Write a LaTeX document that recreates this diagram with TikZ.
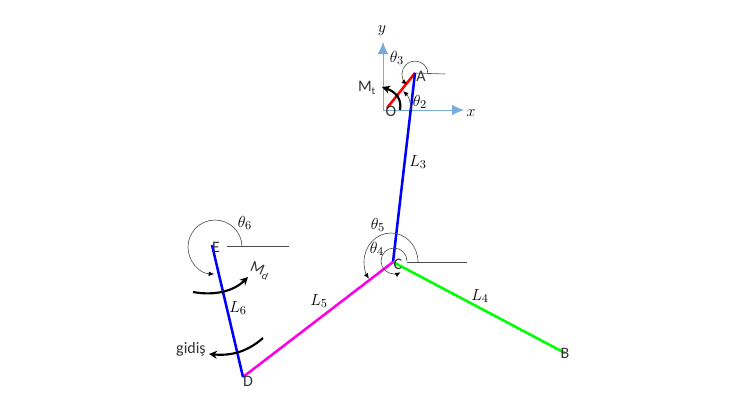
\documentclass[tikz,border=0pt]{standalone}
\usepackage{fontspec}
\setmainfont{Carlito}
\usetikzlibrary{arrows.meta}
\definecolor{axisblue}{RGB}{120,170,220}
\definecolor{linkpink}{RGB}{255,0,230}
\tikzset{
    link/.style={line width=1.9pt},
    thin line/.style={draw=black!70, line width=0.45pt},
    angle arc/.style={thin line, -{Latex[length=4pt,width=3.5pt,black]}},
    moment/.style={line width=1.6pt, -{Stealth[length=6pt,width=6pt]}},
    axis/.style={draw=axisblue, line width=0.7pt, -{Latex[length=9pt,width=8pt]}},
    point/.style={font=\fontsize{12}{14}\selectfont, text=black!80, inner sep=0pt},
    symbol/.style={font=\fontsize{13}{15}\selectfont, inner sep=0pt},
}
\begin{document}
\begin{tikzpicture}[x=0.75pt,y=-0.75pt]
    \useasboundingbox (0,0) rectangle (736,405);
    \coordinate (origin) at (383,110);
    \coordinate (xend) at (464,110);
    \coordinate (yend) at (383,42);
    \coordinate (start) at (387,108);
    \coordinate (A) at (415,73);
    \coordinate (C) at (393,262);
    \coordinate (B) at (565,353);
    \coordinate (D) at (243,377);
    \coordinate (E) at (212,245);
    \coordinate (Aright) at (445,74);
    \coordinate (Cleft) at (407,262);
    \coordinate (Cright) at (467,262);
    \coordinate (Eleft) at (227,246);
    \coordinate (Eright) at (289,246);

    \draw[axis] (origin) -- (xend);
    \draw[axis] (origin) -- (yend);
    \draw[thin line] (A) -- (Aright);
    \draw[thin line] (Cleft) -- (Cright);
    \draw[thin line] (Eleft) -- (Eright);

    \draw[link, red] (start) -- (A);
    \draw[link, blue] (A) -- (C);
    \draw[link, green] (C) -- (B);
    \draw[link, linkpink] (C) -- (D);
    \draw[link, blue] (D) -- (E);

    \draw[angle arc] (411,109) arc[start angle=0, end angle=-48, radius=24];
    \draw[angle arc] (428,74) arc[start angle=0, end angle=-233, radius=13];
    \draw[angle arc] (418,262) arc[start angle=0, end angle=-215, x radius=27, y radius=29];
    \draw[angle arc] (407,261) arc[start angle=0, end angle=-300, radius=13];
    \draw[angle arc] (242,247) arc[start angle=0, end angle=-268, radius=27];

    \draw[moment] (400,110) .. controls (402,99) and (396,92) .. (382,87);
    \draw[moment] (193,292) .. controls (215,296) and (234,291) .. (248,277);
    \draw[moment] (263,338) .. controls (247,352) and (231,356) .. (209,354);

    \node[point] (labelO) at (391,111) {O};
    \node[point] (labelA) at (421,76) {A};
    \node[point] (labelC) at (398,264) {C};
    \node[point] (labelB) at (565,353) {B};
    \node[point] (labelD) at (248,381) {D};
    \node[point] (labelE) at (216,247) {E};
    \node[point] (labelMt) at (367,88) {M\textsubscript{t}};
    \node[point, rotate=-22] (labelMd) at (260,271) {M\textsubscript{d}};
    \node[point] (labelgidis) at (191,349) {gidiş};

    \node[symbol] (labely) at (382,31) {$y$};
    \node[symbol] (labelx) at (471,113) {$x$};
    \node[symbol] (theta2) at (420,102) {$\theta_2$};
    \node[symbol] (theta3) at (397,58) {$\theta_3$};
    \node[symbol] (theta4) at (377,249) {$\theta_4$};
    \node[symbol] (theta5) at (378,225) {$\theta_5$};
    \node[symbol] (theta6) at (245,223) {$\theta_6$};
    \node[symbol] (L3) at (418,162) {$L_3$};
    \node[symbol] (L4) at (480,296) {$L_4$};
    \node[symbol] (L5) at (319,301) {$L_5$};
    \node[symbol] (L6) at (238,308) {$L_6$};
\end{tikzpicture}
\end{document}
